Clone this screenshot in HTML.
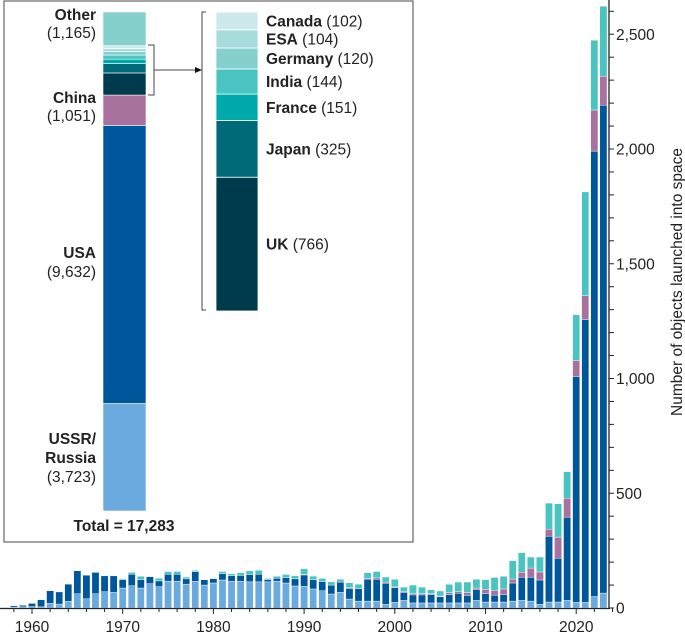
<!DOCTYPE html>
<html><head><meta charset="utf-8"><style>
body{margin:0;background:#fff;}
svg{display:block;font-family:"Liberation Sans",Arial,sans-serif;}
</style></head><body>
<svg id="chart" width="685" height="636" viewBox="0 0 685 636">
<g id="bars"></g>
<g id="axes"></g>
<g id="inset"></g>
</svg>
<script>
const years=[];for(let y=1957;y<=2023;y++)years.push(y);
const russia=[2,4,5,6,5,20,17,29,62,40,62,71,68,87,97,87,106,93,117,117,104,116,100,109,122,116,116,114,114,114,117,109,96,94,83,75,61,68,39,30,30,30,16,25,33,22,22,22,22,22,22,22,33,26,26,26,30,33,30,16,26,26,33,25,25,50,65];
const usa=[2,6,7,14,31,55,53,75,100,103,93,69,72,36,50,37,30,25,30,30,23,42,23,19,27,25,26,32,33,10,13,23,31,50,40,40,39,45,46,54,96,95,92,64,35,35,35,37,27,36,42,33,48,36,30,33,79,101,104,106,287,191,363,984,1232,1941,2126];
const china=[0,0,0,0,0,0,0,0,0,0,0,0,0,0,0,0,0,0,0,0,0,0,0,0,0,0,0,0,0,0,0,0,0,3,0,0,0,0,3,0,4,6,5,3,3,5,6,4,3,9,7,12,6,19,19,24,17,22,40,35,30,92,82,69,104,179,126];
const other=[0,0,0,0,0,0,0,0,0,0,0,0,0,5,8,14,2,12,12,12,8,6,2,0,10,8,12,16,17,5,8,14,14,24,16,14,14,12,22,20,24,28,22,33,20,38,28,17,22,36,42,46,38,42,58,55,80,85,48,65,114,145,116,200,452,304,305];
const yTicks=[0,500,1000,1500,2000,2500];
const xTickLabels=[1960,1970,1980,1990,2000,2010,2020];
const insetCats=["USSR/Russia","USA","China","UK","Japan","France","India","Germany","ESA","Canada","Other"];
const insetVals=[3723,9632,1051,766,325,151,144,120,104,102,1165];
const otherCats=["UK","Japan","France","India","Germany","ESA","Canada"];
const otherVals=[766,325,151,144,120,104,102];

const NS="http://www.w3.org/2000/svg";
const C={russia:"#6aaadf",usa:"#00569a",china:"#a8719e",other:"#4ac4c0"};
const FS=15.5;
const y0=608,yk=0.2295;
const X=yr=>32+(yr-1960)*9.07;
const Y=v=>y0-v*yk;
function el(tag,attrs,parent){const e=document.createElementNS(NS,tag);for(const k in attrs)e.setAttribute(k,attrs[k]);parent.appendChild(e);return e;}
const gb=document.getElementById('bars');
years.forEach((yr,i)=>{
  let base=0;
  [["russia",russia[i]],["usa",usa[i]],["china",china[i]],["other",other[i]]].forEach(([k,v])=>{
    if(v<=0)return;
    const r=el('rect',{x:X(yr)-3.6,y:Y(base+v),width:7.2,height:v*yk,fill:C[k],stroke:"#fff","stroke-width":0.4},gb);
    
    
    base+=v;
  });
});
const ga=document.getElementById('axes');
el('line',{x1:609,y1:0,x2:609,y2:608.5,stroke:"#222","stroke-width":1.3},ga);
el('line',{x1:0,y1:608.5,x2:610,y2:608.5,stroke:"#222","stroke-width":1.3},ga);
for(let v=0;v<=2600;v+=100){el('line',{x1:609,y1:Y(v),x2:614,y2:Y(v),stroke:"#222","stroke-width":1},ga);}
yTicks.forEach(v=>{const t=el('text',{x:616,y:Y(v)+5.5,"font-size":FS,fill:"#222"},ga);t.textContent=v.toLocaleString('en-US');
});
for(let yr=1958;yr<=2024;yr+=2){el('line',{x1:X(yr),y1:608,x2:X(yr),y2:(yr%10===0?614:612),stroke:"#222","stroke-width":1},ga);}
xTickLabels.forEach(yr=>{const t=el('text',{x:X(yr),y:632,"font-size":FS,fill:"#222","text-anchor":"middle"},ga);t.textContent=yr;
});
const tt=el('text',{x:0,y:0,"font-size":FS,fill:"#222","text-anchor":"middle",transform:"translate(682,282) rotate(-90)"},ga);
tt.textContent="Number of objects launched into space";


const gi=document.getElementById('inset');
el('rect',{x:4,y:1,width:409,height:541,fill:"#fff",stroke:"#666","stroke-width":1.2},gi);
const insetColors=["#6aaadf","#00569a","#a8719e","#003a4d","#006a79","#00a9ac","#4ac4c0","#85d0cc","#a8dcdc","#cde9ec","#85d0cc"];
const total=insetVals.reduce((a,b)=>a+b,0);
const k1=499/total;let b1=511;
insetVals.forEach((v,i)=>{const h=v*k1;const r=el('rect',{x:103,y:b1-h,width:43,height:h,fill:insetColors[i],stroke:"#fff","stroke-width":0.6},gi);
b1-=h;});
const otot=otherVals.reduce((a,b)=>a+b,0);const k2=299/otot;let b2=311;
otherVals.forEach((v,i)=>{const h=v*k2;const r=el('rect',{x:216,y:b2-h,width:42,height:h,fill:insetColors[i+3],stroke:"#fff","stroke-width":0.8},gi);

const t=el('text',{x:266,y:b2-h/2+5.5,"font-size":FS,fill:"#222"},gi);
t.innerHTML='<tspan font-weight="bold">'+otherCats[i]+'</tspan> ('+v+')';

b2-=h;});
el('path',{d:"M148 45 H154 V95 H148",fill:"none",stroke:"#444","stroke-width":1},gi);
el('line',{x1:154,y1:70,x2:196,y2:70,stroke:"#444","stroke-width":1},gi);
el('path',{d:"M202 70 L195 67 L195 73 Z",fill:"#111"},gi);
el('path',{d:"M206 12 H202 V310 H206",fill:"none",stroke:"#444","stroke-width":1},gi);
const labels=[["Other",20,true],["(1,165)",38,false],["China",103,true],["(1,051)",121,false],["USA",258,true],["(9,632)",277,false],["USSR/",444,true],["Russia",463,true],["(3,723)",482,false]];
labels.forEach(([s,y,b])=>{const t=el('text',{x:96,y:y,"font-size":FS,fill:"#222","text-anchor":"end","font-weight":b?"bold":"normal"},gi);t.textContent=s;
});
const tot=el('text',{x:124,y:531,"font-size":FS,fill:"#222","text-anchor":"middle","font-weight":"bold"},gi);tot.textContent="Total = 17,283";

</script>
</body></html>
